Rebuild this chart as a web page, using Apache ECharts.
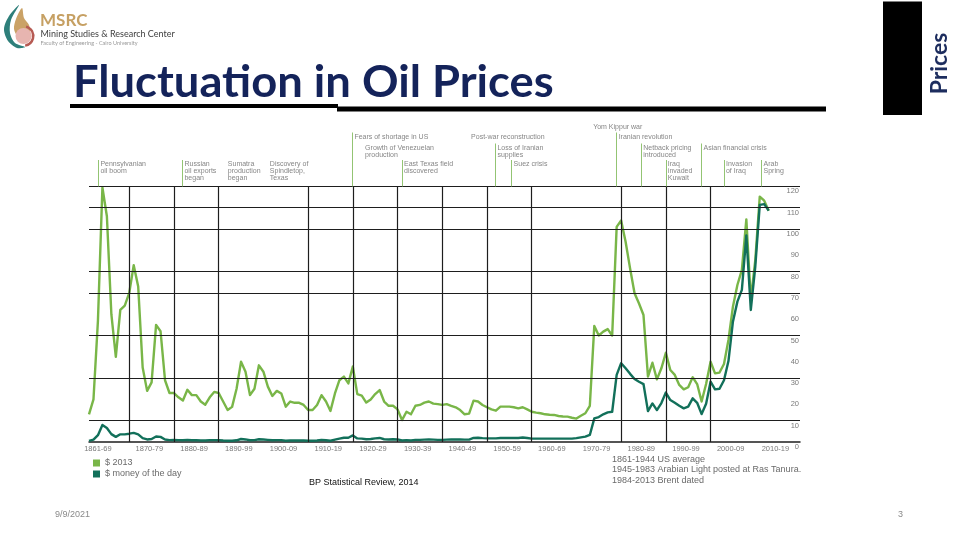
<!DOCTYPE html>
<html><head><meta charset="utf-8">
<script src="https://cdn.jsdelivr.net/npm/echarts@6/dist/echarts.min.js"></script>
<style>html,body{margin:0;padding:0;background:#fff}#c{width:960px;height:540px}</style>
</head><body><div id="c"></div>
<script>
// ---------------- DATA ----------------
const firstYear = 1861;
const seriesNames = ['$ 2013', '$ money of the day'];
// Crude oil price, US dollars per barrel, 2013 dollars (1861-2013)
const price2013 = [
  13, 20, 57, 119.5, 106, 60, 40, 62, 64, 70,
  83, 73, 35, 24, 28, 55, 52, 29, 23, 23,
  21, 19.5, 24.5, 22, 22, 19, 17.5, 21, 23.5, 23,
  19, 15, 16.5, 25, 37.7, 33, 22, 25, 36, 33,
  26, 21.6, 24, 22.8, 16.6, 19, 18.4, 18.4, 17.4, 15,
  15, 17.4, 22, 19, 14.6, 22.8, 29, 30.7, 27.5, 35.4,
  22.5, 21.8, 18.5, 20, 22.5, 24.4, 19, 17, 17, 15.3,
  10.3, 14.2, 13, 17, 17.4, 18.5, 19, 18, 17.8, 17.4,
  17.8, 17, 16.3, 15, 13, 13.3, 19.4, 19, 17.4, 16.3,
  15.3, 14.7, 16.6, 16.6, 16.6, 16.3, 15.8, 16.3, 15.3, 14.2,
  13.8, 13.5, 13, 12.8, 12.7, 12.2, 12, 11.9, 11.4, 11,
  12.3, 13.5, 17, 54.5, 50, 51.8, 53, 50, 101, 104,
  94, 81.5, 69.8, 65, 59.6, 30.7, 37.2, 29.4, 34.6, 41.9,
  33.8, 31.5, 26.8, 24.7, 25.7, 30.4, 27.2, 19, 27.2, 37.7,
  32.2, 32.6, 36.6, 47.9, 63.5, 73.7, 80.8, 104.5, 66.7, 85.4,
  115.2, 113.3, 108.6
];
// Money of the day (1861-2013)
const priceMoneyOfDay = [
  0.5, 1.1, 3.2, 8, 6.6, 3.7, 2.4, 3.6, 3.6, 3.9,
  4.3, 3.6, 1.8, 1.2, 1.4, 2.6, 2.4, 1.2, 0.9, 1,
  0.9, 0.8, 1, 0.8, 0.9, 0.7, 0.7, 0.9, 0.9, 0.9,
  0.7, 0.6, 0.6, 0.8, 1.4, 1.2, 0.8, 0.9, 1.3, 1.2,
  1, 0.8, 0.9, 0.9, 0.6, 0.7, 0.7, 0.7, 0.7, 0.6,
  0.6, 0.7, 1, 0.8, 0.6, 1.1, 1.6, 2, 2, 3.1,
  1.7, 1.6, 1.3, 1.4, 1.7, 1.9, 1.3, 1.2, 1.3, 1.2,
  0.7, 0.9, 0.7, 1, 1, 1.1, 1.2, 1.1, 1, 1,
  1.1, 1.2, 1.2, 1.2, 1.1, 1.1, 1.9, 2, 1.8, 1.7,
  1.7, 1.7, 1.9, 1.9, 1.9, 1.9, 1.9, 2.1, 1.9, 1.6,
  1.6, 1.6, 1.6, 1.6, 1.6, 1.6, 1.6, 1.6, 1.6, 1.8,
  2.2, 2.5, 3.3, 11.1, 11.7, 13, 13.9, 14.2, 31.5, 37,
  34.6, 32, 29.6, 28.3, 27.2, 14.5, 18.1, 15, 18.3, 23.2,
  19.7, 18.4, 17, 15.8, 16.6, 20.5, 18.4, 13.1, 18, 28.3,
  24.7, 25, 29, 38, 56.5, 65.9, 71.4, 97, 62, 82.3,
  111.3, 111.7, 108.6
];
const decadeLabels = ['1861-69','1870-79','1880-89','1890-99','1900-09','1910-19','1920-29','1930-39',
  '1940-49','1950-59','1960-69','1970-79','1980-89','1990-99','2000-09','2010-19'];
const yMin = 0, yMax = 120, yStep = 10;
const horizontalRules = [10, 30, 50, 70, 80, 100, 110, 120];
const verticalRules = [1870, 1880, 1890, 1910, 1920, 1930, 1940, 1950, 1960, 1980, 1990, 2000];
const eventYears = [1863.1, 1881.9, 1891.6, 1901, 1919.9, 1922.3, 1931, 1946, 1951.9, 1955.5, 1973.3, 1979, 1984.5, 1990, 1998, 2003, 2011.4];
const eventTexts = ['Pennsylvanian\noil boom', 'Russian\noil exports\nbegan', 'Sumatra\nproduction\nbegan',
  'Discovery of\nSpindletop,\nTexas', 'Fears of shortage in US', 'Growth of Venezuelan\nproduction',
  'East Texas field\ndiscovered', 'Post-war reconstruction', 'Loss of Iranian\nsupplies', 'Suez crisis',
  'Yom Kippur war', 'Iranian revolution', 'Netback pricing\nintroduced', 'Iraq\ninvaded\nKuwait',
  'Asian financial crisis', 'Invasion\nof Iraq', 'Arab\nSpring'];
const eventTiers = [4, 4, 4, 4, 2, 3, 4, 2, 3, 4, 1, 2, 3, 4, 3, 4, 4];
const eventHasLine = [1, 1, 0, 0, 1, 0, 1, 0, 1, 1, 0, 1, 1, 1, 1, 1, 1];
const notes = ['1861-1944 US average', '1945-1983 Arabian Light posted at Ras Tanura.', '1984-2013 Brent dated'];

// ---------------- LAYOUT / STYLE ----------------
const LIGHT = '#79b648', DARK = '#12705a', RULE = '#1e1e1e', EVT = '#93c473';
const plot = { left: 89, right: 160, top: 186.4, bottom: 98 };
const annTop = 118, annBottom = 186.4;
const tierTop = { 1: 124, 2: 133.5, 3: 144.5, 4: 161 };
const FONT = 'Liberation Sans';

const d2013 = price2013.map((v, i) => [firstYear + i, v]);
const dMod = priceMoneyOfDay.map((v, i) => [firstYear + i, v]);
const labelPos = decadeLabels.map((l, i) => i === 0 ? firstYear + 2 : Number(l.slice(0, 4)) + 4.5);
const labelMap = new Map(labelPos.map((p, i) => [p, decadeLabels[i]]));

const chart = echarts.init(document.getElementById('c'), null, { renderer: 'canvas' });
chart.setOption({
  animation: false,
  backgroundColor: '#fff',
  grid: [
    { left: plot.left, right: plot.right, top: plot.top, bottom: plot.bottom },
    { left: plot.left, right: plot.right, top: annTop, height: annBottom - annTop }
  ],
  xAxis: [
    { type: 'value', gridIndex: 0, min: firstYear, max: 2020,
      axisLine: { show: true, lineStyle: { color: RULE, width: 1.5 } },
      axisTick: { show: false }, splitLine: { show: false },
      axisLabel: { customValues: labelPos, formatter: v => labelMap.get(v) || '',
        fontSize: 7.5, color: '#7a7a7a', fontFamily: FONT, margin: 3 } },
    { type: 'value', gridIndex: 1, min: firstYear, max: 2020, show: false }
  ],
  yAxis: [
    { type: 'value', gridIndex: 0, position: 'right', min: yMin, max: yMax, interval: yStep,
      axisLine: { show: false }, axisTick: { show: false }, splitLine: { show: false },
      axisLabel: { inside: true, margin: 1, align: 'right', verticalAlign: 'top', padding: [1, 0, 0, 0],
        fontSize: 7.5, color: '#7a7a7a', fontFamily: FONT } },
    { type: 'value', gridIndex: 1, min: annTop, max: annBottom, inverse: true, show: false }
  ],
  legend: {
    data: seriesNames, orient: 'vertical', left: 88, top: 453, itemWidth: 7, itemHeight: 7,
    itemGap: 1, icon: 'rect',
    textStyle: { fontSize: 9, color: '#6a6a6a', fontFamily: FONT, lineHeight: 10 }
  },
  series: [
    { type: 'line', name: 'rules', xAxisIndex: 0, yAxisIndex: 0, z: 1, silent: true,
      data: [[firstYear, 0]], symbol: 'none', lineStyle: { opacity: 0 },
      markLine: { silent: true, symbol: 'none', label: { show: false }, animation: false,
        lineStyle: { color: RULE, width: 1.2, type: 'solid' },
        data: horizontalRules.map(v => ({ yAxis: v })).concat(verticalRules.map(v => ({ xAxis: v }))) } },
    { type: 'line', name: seriesNames[0], xAxisIndex: 0, yAxisIndex: 0, z: 3, data: d2013,
      symbol: 'none', clip: false, itemStyle: { color: LIGHT },
      lineStyle: { color: LIGHT, width: 2.4, join: 'round' } },
    { type: 'line', name: seriesNames[1], xAxisIndex: 0, yAxisIndex: 0, z: 4, data: dMod,
      symbol: 'none', clip: false, itemStyle: { color: DARK },
      lineStyle: { color: DARK, width: 2.4, join: 'round' } },
    { type: 'scatter', name: 'events', xAxisIndex: 1, yAxisIndex: 1, silent: true,
      symbol: 'rect', symbolSize: 1, itemStyle: { color: 'rgba(0,0,0,0)' },
      data: eventYears.map((y, i) => ({ value: [y, tierTop[eventTiers[i]]], name: eventTexts[i] })),
      label: { show: true, position: [2.5, 0], align: 'left', verticalAlign: 'top',
        formatter: p => p.name, fontSize: 7, lineHeight: 7.2, color: '#666', fontFamily: FONT },
      markLine: { silent: true, symbol: 'none', label: { show: false }, animation: false,
        lineStyle: { color: EVT, width: 1, type: 'solid' },
        data: eventYears.map((y, i) => eventHasLine[i] ?
          [{ coord: [y, annBottom] }, { coord: [y, tierTop[eventTiers[i]] - 1] }] : null).filter(Boolean) } }
  ],
  graphic: [
    // logo
    { type: 'polygon', shape: { points: [[19,5],[9,16],[4,29],[8,41],[17,48],[25,47],[15,43],[10,33],[11,20]], smooth: 0.3 }, style: { fill: '#2e7f7a' } },
    { type: 'polygon', shape: { points: [[22,8],[16,19],[14,29],[18,37],[24,40],[30,34],[29,25],[24,18]], smooth: 0.3 }, style: { fill: '#caa266' } },
    { type: 'circle', shape: { cx: 23.5, cy: 36, r: 8 }, style: { fill: '#e7b5b0' } },
    { type: 'sector', shape: { cx: 23.5, cy: 36, r: 11, r0: 8.5, startAngle: -1.3, endAngle: 1.4 }, style: { fill: '#b65a53' } },
    { type: 'text', x: 40, y: 12, style: { text: 'MSRC', font: 'bold 17px Lato', fill: '#c6a063' } },
    { type: 'text', x: 40.5, y: 29.5, style: { text: 'Mining Studies & Research Center', font: '9px Lato', fill: '#404040' } },
    { type: 'text', x: 40.5, y: 40.5, style: { text: 'Faculty of Engineering - Cairo University', font: '5.5px Lato', fill: '#9a9a9a' } },
    // title
    { type: 'text', x: 73, y: 60.5, scaleX: 1.03, style: { text: 'Fluctuation in Oil Prices', font: 'bold 44px Lato', fill: '#14235a' } },
    { type: 'rect', shape: { x: 70, y: 104, width: 268, height: 4 }, style: { fill: '#000' } },
    { type: 'rect', shape: { x: 337, y: 106.5, width: 489, height: 5 }, style: { fill: '#000' } },
    // prices box
    { type: 'rect', shape: { x: 883, y: 1.5, width: 39, height: 113.5 }, style: { fill: '#000' } },
    { type: 'text', x: 939.5, y: 63.5, rotation: Math.PI / 2,
      style: { text: 'Prices', font: 'bold 23px Lato', fill: '#1d2d5e', align: 'center', verticalAlign: 'middle' } },
    // notes
    { type: 'text', x: 612, y: 454, style: { text: notes.join('\n'), font: '9px ' + FONT, lineHeight: 10.5, fill: '#6a6a6a' } },
    { type: 'text', x: 309, y: 478, style: { text: 'BP Statistical Review, 2014', font: '9px ' + FONT, fill: '#111' } },
    // footer
    { type: 'text', x: 55, y: 510, style: { text: '9/9/2021', font: '9px ' + FONT, fill: '#8a8a8a' } },
    { type: 'text', x: 898, y: 510, style: { text: '3', font: '9px ' + FONT, fill: '#8a8a8a' } }
  ]
});
</script>
</body></html>
